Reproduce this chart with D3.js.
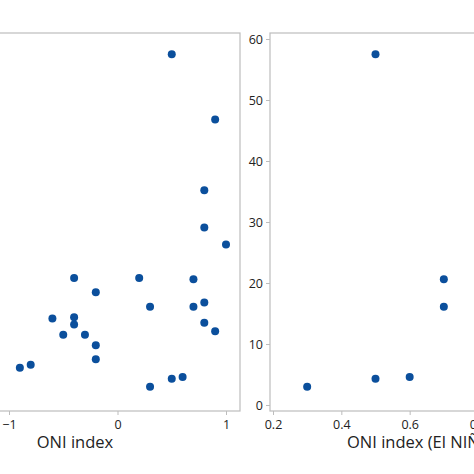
<!DOCTYPE html>
<html><head><meta charset="utf-8">
<script src="https://cdn.jsdelivr.net/npm/d3@7"></script>
<style>body{margin:0;background:#fff}text{font-family:"Open Sans",sans-serif;fill:#222}</style>
</head><body><svg id="c" width="474" height="474"></svg>
<script>
const leftX=[0.5,0.9,0.8,0.8,1.0,-0.4,0.2,0.7,-0.2,0.3,0.7,0.8,-0.6,-0.4,-0.4,0.8,0.9,-0.5,-0.3,-0.2,-0.2,-0.9,-0.8,0.3,0.5,0.6];
const leftY=[57.5,46.8,35.2,29.1,26.3,20.8,20.8,20.6,18.5,16.1,16.1,16.8,14.2,14.4,13.2,13.5,12.1,11.5,11.5,9.8,7.5,6.1,6.6,3.0,4.3,4.6];
const rightX=[0.5,0.7,0.7,0.3,0.5,0.6,0.8,0.8,0.8,0.8,0.9,0.9,1.0];
const rightY=[57.5,20.6,16.1,3.0,4.3,4.6,35.2,29.1,16.8,13.5,46.8,12.1,26.3];
const yTicks=[0,10,20,30,40,50,60];
const leftTicks=[-1,0,1], rightTicks=[0.2,0.4,0.6,0.8];
const svg=d3.select("#c");
const y=d3.scaleLinear().domain([0,60]).range([405,39]);
const col="#0b4f9c", frame="#bdbdbd";
svg.append("clipPath").attr("id","cl").append("rect").attr("x",-10).attr("y",33).attr("width",250).attr("height",378);
svg.append("clipPath").attr("id","cr").append("rect").attr("x",270).attr("y",33).attr("width",250).attr("height",378);
const xl=d3.scaleLinear().domain([-1,1]).range([9,226]);
svg.append("rect").attr("x",-5).attr("y",33).attr("width",245).attr("height",378).attr("fill","none").attr("stroke",frame).attr("stroke-width",1.2);
const gl=svg.append("g").attr("transform","translate(0,411)").call(d3.axisBottom(xl).tickValues(leftTicks).tickFormat(d3.format("d")).tickSize(4));
gl.select(".domain").remove();gl.selectAll("line").attr("stroke",frame);gl.selectAll("text").attr("font-size",12.5).attr("fill","#222").attr("dy","0.85em");
svg.append("g").attr("clip-path","url(#cl)").selectAll("circle").data(leftX).join("circle")
 .attr("cx",d=>xl(d)).attr("cy",(d,i)=>y(leftY[i])).attr("r",4).attr("fill",col);
svg.append("text").attr("x",75).attr("y",448).attr("text-anchor","middle").attr("font-size",16.5).text("ONI index");
const xr=d3.scaleLinear().domain([0.2,0.8]).range([273,478]);
svg.append("rect").attr("x",270).attr("y",33).attr("width",220).attr("height",378).attr("fill","none").attr("stroke",frame).attr("stroke-width",1.2);
const gy=svg.append("g").attr("transform","translate(270,0)").call(d3.axisLeft(y).tickValues(yTicks).tickSize(4));
gy.select(".domain").remove();gy.selectAll("line").attr("stroke",frame);gy.selectAll("text").attr("font-size",12.5).attr("fill","#222");
const gr=svg.append("g").attr("transform","translate(0,411)").call(d3.axisBottom(xr).tickValues(rightTicks).tickFormat(d3.format(".1f")).tickSize(4));
gr.select(".domain").remove();gr.selectAll("line").attr("stroke",frame);gr.selectAll("text").attr("font-size",12.5).attr("fill","#222").attr("dy","0.85em");
svg.append("g").attr("clip-path","url(#cr)").selectAll("circle").data(rightX).join("circle")
 .attr("cx",d=>xr(d)).attr("cy",(d,i)=>y(rightY[i])).attr("r",4).attr("fill",col);
svg.append("text").attr("x",347).attr("y",448).attr("font-size",16.5).text("ONI index (El NIÑO)");
</script></body></html>
